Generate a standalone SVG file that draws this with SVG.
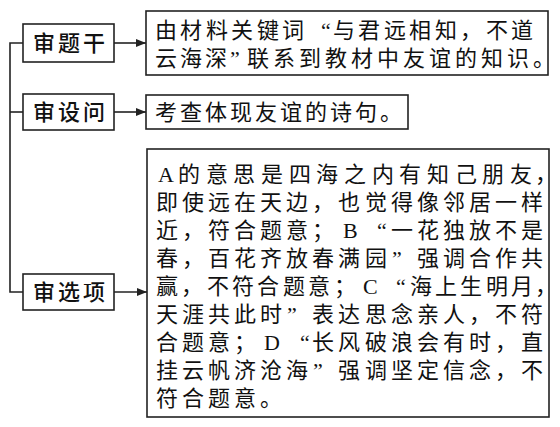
<svg xmlns="http://www.w3.org/2000/svg" width="560" height="427" viewBox="0 0 560 427">
<style>
.box{fill:#fff;stroke:#222;stroke-width:1.6}
.lbl{font-family:"Noto Sans CJK SC","Liberation Sans",sans-serif;font-size:22px;font-weight:500;fill:#111;letter-spacing:3px}
.txt{font-family:"Liberation Serif","Noto Sans CJK SC",serif;font-size:22px;fill:#111}
.ln{fill:none;stroke:#222;stroke-width:1.6}
</style>
<defs>
<marker id="ah" viewBox="0 0 10 8" refX="10" refY="4" markerWidth="10" markerHeight="8" markerUnits="userSpaceOnUse" orient="auto">
<path d="M0,0 L10,4 L0,8 Z" fill="#222"/>
</marker>
</defs>
<rect width="560" height="427" fill="#fff"/>
<g id="connectors">
<path class="ln" d="M23,43 H10 V292 H23"/>
<path class="ln" d="M10,112 H23"/>
<path class="ln" d="M114,43 H146" marker-end="url(#ah)"/>
<path class="ln" d="M114,112 H146" marker-end="url(#ah)"/>
<path class="ln" d="M114,292 H147" marker-end="url(#ah)"/>
</g>
<g id="n1">
<rect class="box" x="23" y="24" width="91" height="38"/>
<text class="lbl" x="33" y="51">审题干</text>
</g>
<g id="n2">
<rect class="box" x="23" y="94" width="91" height="36"/>
<text class="lbl" x="33" y="120">审设问</text>
</g>
<g id="n3">
<rect class="box" x="23" y="274" width="91" height="36"/>
<text class="lbl" x="33" y="300">审选项</text>
</g>
<g id="d1">
<rect class="box" x="146" y="11" width="402" height="64"/>
<text class="txt" y="38" x="155 180 206 231 257 282 321 333 358 384 409 435 460 486 511">由材料关键词“与君远相知，不道</text>
<text class="txt" y="66" x="155 180 205 230 247 273 299 325 351 377 403 429 455 481 507 533">云海深”联系到教材中友谊的知识。</text>
</g>
<g id="d2">
<rect class="box" x="146" y="95" width="262" height="34"/>
<text class="txt" y="120" x="155 180 205 230 255 280 305 330 355 380">考查体现友谊的诗句。</text>
</g>
<g id="d3">
<rect class="box" x="147" y="149" width="402" height="268"/>
<text class="txt" y="182" x="158 175 178 206 233 261 289 316 344 372 399 427 455 482 510 535">A 的意思是四海之内有知己朋友，</text>
<text class="txt" y="210" x="156 182 208 234 260 286 312 338 365 391 417 443 469 495 521">即使远在天边，也觉得像邻居一样</text>
<text class="txt" y="238" x="156 182 208 234 260 286 312 343 377 391 417 443 469 495 521">近，符合题意；B“一花独放不是</text>
<text class="txt" y="266" x="156 182 208 234 260 286 312 338 365 392 417 443 469 495 521">春，百花齐放春满园”强调合作共</text>
<text class="txt" y="294" x="156 181 207 232 257 283 308 334 363 396 410 435 460 486 511 535">赢，不符合题意；C“海上生明月，</text>
<text class="txt" y="322" x="156 182 208 234 260 287 312 338 365 391 417 443 469 495 521">天涯共此时”表达思念亲人，不符</text>
<text class="txt" y="350" x="156 182 208 234 264 300 312 338 365 391 417 443 469 495 521">合题意；D“长风破浪会有时，直</text>
<text class="txt" y="378" x="156 182 208 234 260 286 313 338 365 391 417 443 469 495 521">挂云帆济沧海”强调坚定信念，不</text>
<text class="txt" y="406" x="156 182 208 234 260">符合题意。</text>
</g>
</svg>
